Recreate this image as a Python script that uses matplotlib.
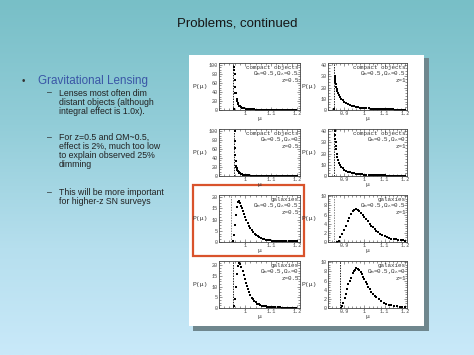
import numpy as np
import matplotlib
matplotlib.use("Agg")
import matplotlib.pyplot as plt
from matplotlib.colors import LinearSegmentedColormap
from matplotlib.patches import Rectangle
from matplotlib.ticker import MultipleLocator, FixedLocator

# ---------------- data ----------------
# compact objects, Om=0.5, OL=0.5, z=0.5
A_min = 0.955
A_mu = [0.957, 0.958, 0.959, 0.960, 0.961, 0.962, 0.963, 0.965, 0.967, 0.969, 0.971, 0.974,
        0.977, 0.980, 0.984, 0.988, 0.992, 0.997, 1.002, 1.008, 1.014, 1.020, 1.027, 1.034,
        1.041, 1.048, 1.055, 1.062, 1.069, 1.076, 1.083, 1.090, 1.097, 1.104, 1.111, 1.118,
        1.125, 1.132, 1.139, 1.146, 1.153, 1.160, 1.167, 1.174, 1.181, 1.188, 1.195]
A_p = [3, 95, 90, 80, 68, 52, 38, 37, 25, 20, 16, 12.5, 10, 8, 6.5, 5.2, 4.3, 3.5, 2.9, 2.4,
       2.0, 1.7, 1.4, 1.2, 1.0, 0.9, 0.8, 0.7, 0.6, 0.55, 0.5, 0.45, 0.4, 0.38, 0.35, 0.32,
       0.3, 0.28, 0.26, 0.24, 0.22, 0.21, 0.2, 0.19, 0.18, 0.17, 0.16]

# compact objects, Om=0.5, OL=0, z=0.5
B_min = 0.958
B_mu = [0.960, 0.961, 0.962, 0.963, 0.964, 0.965, 0.966, 0.968, 0.970, 0.972, 0.975, 0.978,
        0.981, 0.985, 0.989, 0.993, 0.998, 1.003, 1.009, 1.015, 1.022, 1.029, 1.036, 1.043,
        1.050, 1.057, 1.064, 1.071, 1.078, 1.085, 1.092, 1.099, 1.106, 1.113, 1.120, 1.127,
        1.134, 1.141, 1.148, 1.155, 1.162, 1.169, 1.176, 1.183, 1.190, 1.197]
B_p = [100, 78, 62, 46, 33, 22, 20, 17, 14, 11, 9, 7.2, 5.8, 4.6, 3.7, 3.0, 2.4, 2.0, 1.6,
       1.3, 1.1, 0.9, 0.75, 0.65, 0.55, 0.5, 0.45, 0.4, 0.36, 0.33, 0.3, 0.28, 0.26, 0.24,
       0.22, 0.2, 0.19, 0.18, 0.17, 0.16, 0.15, 0.14, 0.13, 0.12, 0.12, 0.11]

# compact objects, Om=0.5, OL=0.5, z=1
C_min = 0.850
C_mu = [0.852, 0.854, 0.855, 0.856, 0.857, 0.858, 0.860, 0.863, 0.866, 0.870, 0.875, 0.880,
        0.886, 0.892, 0.900, 0.910, 0.920, 0.930, 0.940, 0.950, 0.960, 0.970, 0.980, 0.990,
        1.000, 1.010, 1.020, 1.030, 1.040, 1.050, 1.060, 1.070, 1.080, 1.090, 1.100, 1.110,
        1.120, 1.130, 1.140, 1.150, 1.160, 1.170, 1.180, 1.190, 1.200]
C_p = [1, 30, 29, 27, 25, 23, 21, 19, 17, 15, 13, 11.5, 10, 8.7, 7.5, 6.3, 5.3, 4.5, 3.8,
       3.3, 2.9, 2.5, 2.2, 1.9, 1.7, 1.5, 1.35, 1.2, 1.1, 1.0, 0.9, 0.82, 0.75, 0.7, 0.65,
       0.6, 0.55, 0.5, 0.47, 0.44, 0.42, 0.4, 0.38, 0.36, 0.35]

# compact objects, Om=0.5, OL=0, z=1
D_min = 0.852
D_mu = [0.854, 0.855, 0.856, 0.857, 0.858, 0.859, 0.861, 0.863, 0.866, 0.870, 0.875, 0.880,
        0.886, 0.892, 0.900, 0.910, 0.920, 0.930, 0.940, 0.950, 0.960, 0.970, 0.980, 0.990,
        1.000, 1.010, 1.020, 1.030, 1.040, 1.050, 1.060, 1.070, 1.080, 1.090, 1.100, 1.110,
        1.120, 1.130, 1.140, 1.150, 1.160, 1.170, 1.180, 1.190, 1.200]
D_p = [41, 40, 37, 33, 30, 27, 24, 20, 17, 14, 11.5, 9.5, 8, 6.8, 5.8, 4.8, 4.0, 3.4, 2.9,
       2.5, 2.1, 1.8, 1.6, 1.4, 1.25, 1.1, 1.0, 0.9, 0.8, 0.72, 0.65, 0.6, 0.55, 0.5, 0.46,
       0.42, 0.4, 0.37, 0.35, 0.33, 0.31, 0.3, 0.28, 0.27, 0.26]

# galaxies, Om=0.5, OL=0.5, z=0.5
E_min = 0.946
E_mu = [0.952, 0.956, 0.960, 0.964, 0.968, 0.972, 0.976, 0.980, 0.984, 0.988, 0.992, 0.996,
        1.000, 1.005, 1.010, 1.015, 1.020, 1.025, 1.030, 1.036, 1.042, 1.048, 1.054, 1.060,
        1.067, 1.074, 1.081, 1.088, 1.095, 1.102, 1.110, 1.118, 1.126, 1.134, 1.142, 1.150,
        1.158, 1.166, 1.174, 1.182, 1.190, 1.198]
E_p = [0.5, 3, 7.5, 12, 15.5, 17.8, 18.3, 17.5, 16.3, 15, 13.7, 12.4, 11.2, 9.8, 8.5, 7.3,
       6.2, 5.3, 4.5, 3.7, 3.0, 2.5, 2.1, 1.7, 1.4, 1.2, 1.0, 0.85, 0.75, 0.65, 0.55, 0.5,
       0.45, 0.42, 0.4, 0.38, 0.36, 0.34, 0.32, 0.3, 0.3, 0.28]

# galaxies, Om=0.5, OL=0, z=0.5
F_min = 0.952
F_mu = [0.958, 0.962, 0.966, 0.970, 0.974, 0.978, 0.982, 0.986, 0.990, 0.994, 0.998, 1.002,
        1.006, 1.010, 1.015, 1.020, 1.025, 1.030, 1.035, 1.040, 1.046, 1.052, 1.058, 1.064,
        1.071, 1.078, 1.085, 1.092, 1.100, 1.108, 1.116, 1.124, 1.132, 1.140, 1.148, 1.156,
        1.164, 1.172, 1.180, 1.188, 1.196]
F_p = [1, 4, 10, 16, 19.5, 21, 20.5, 19, 17.2, 15.3, 13.5, 11.8, 10.2, 8.8, 7.3, 6.0, 4.9,
       4.0, 3.3, 2.7, 2.1, 1.7, 1.4, 1.1, 0.9, 0.75, 0.6, 0.5, 0.42, 0.36, 0.31, 0.27, 0.24,
       0.22, 0.2, 0.18, 0.17, 0.16, 0.15, 0.14, 0.13]

# galaxies, Om=0.5, OL=0.5, z=1
G_min = 0.848
G_mu = [0.866, 0.872, 0.880, 0.890, 0.900, 0.910, 0.918, 0.926, 0.934, 0.942, 0.950, 0.958,
        0.966, 0.974, 0.983, 0.992, 1.000, 1.008, 1.017, 1.025, 1.033, 1.042, 1.050, 1.058,
        1.067, 1.078, 1.089, 1.100, 1.111, 1.122, 1.133, 1.144, 1.155, 1.167, 1.178, 1.189,
        1.200]
G_p = [0.0, 0.3, 1.0, 1.8, 2.6, 3.6, 4.5, 5.3, 6.1, 6.7, 7.1, 7.3, 7.1, 6.8, 6.4, 5.9, 5.4,
       5.0, 4.5, 4.0, 3.6, 3.2, 2.8, 2.5, 2.1, 1.8, 1.5, 1.25, 1.05, 0.9, 0.75, 0.65, 0.55,
       0.48, 0.42, 0.37, 0.32]

# galaxies, Om=0.5, OL=0, z=1
H_min = 0.877
H_mu = [0.886, 0.891, 0.896, 0.902, 0.908, 0.915, 0.921, 0.927, 0.933, 0.941, 0.947, 0.953,
        0.960, 0.967, 0.975, 0.981, 0.987, 0.994, 1.000, 1.006, 1.012, 1.019, 1.025, 1.033,
        1.042, 1.050, 1.059, 1.071, 1.084, 1.096, 1.108, 1.120, 1.133, 1.146, 1.160, 1.173,
        1.186, 1.200]
H_p = [0.0, 0.4, 1.1, 2.1, 3.1, 4.2, 5.2, 6.0, 6.6, 7.7, 8.1, 8.4, 8.7, 8.6, 8.3, 7.9, 7.4,
       6.8, 6.3, 5.7, 5.2, 4.6, 4.1, 3.6, 3.1, 2.7, 2.4, 1.9, 1.5, 1.2, 0.95, 0.75, 0.6, 0.48,
       0.37, 0.28, 0.2, 0.15]

title_text = "Problems, continued"
bullet_head = "Gravitational Lensing"
sub_items = [["Lenses most often dim", "distant objects (although", "integral effect is 1.0x)."],
             ["For z=0.5 and \u03a9M~0.5,", "effect is 2%, much too low",
              "to explain observed 25%", "dimming"],
             ["This will be more important", "for higher-z SN surveys"]]

# ---------------- figure ----------------
W, H = 474, 355
fig = plt.figure(figsize=(W / 100, H / 100), dpi=100)
bg = fig.add_axes([0, 0, 1, 1])
bg.set_xlim(0, W)
bg.set_ylim(H, 0)
bg.axis("off")
cmap = LinearSegmentedColormap.from_list(
    "bg", [(0, "#78BFC7"), (0.35, "#92CDD8"), (0.7, "#B6DFEE"), (1, "#C9E9F9")])
grad = np.linspace(0, 1, 256).reshape(-1, 1)
bg.imshow(grad, cmap=cmap, extent=[0, W, H, 0], aspect="auto", zorder=0)

SANS = ["Liberation Sans", "DejaVu Sans"]
MONO = ["Liberation Mono", "DejaVu Sans Mono"]
plt.rcParams["mathtext.fontset"] = "custom"
plt.rcParams["mathtext.rm"] = "Liberation Mono"
plt.rcParams["mathtext.it"] = "Liberation Mono"

bg.text(237, 23, title_text, ha="center", va="center", fontsize=9.5, family=SANS,
        color="#151515", zorder=3)
bg.text(23, 81, "\u2022", ha="center", va="center", fontsize=7, family=SANS,
        color="#333333", zorder=3)
bg.text(38, 81, bullet_head, ha="left", va="center", fontsize=8.4, family=SANS,
        color="#3A56A6", zorder=3)
group_y = [93, 137.3, 192.7]
for gy, lines in zip(group_y, sub_items):
    bg.text(49, gy, "\u2013", ha="center", va="center", fontsize=6.3, family=SANS,
            color="#222222", zorder=3)
    for i, ln in enumerate(lines):
        bg.text(59, gy + 9.1 * i, ln, ha="left", va="center", fontsize=6.3, family=SANS,
                color="#222222", zorder=3)

# panel with shadow
bg.add_patch(Rectangle((424, 58), 5, 273, facecolor="#6F878E", edgecolor="none", zorder=1))
bg.add_patch(Rectangle((193, 326), 236, 5, facecolor="#6F878E", edgecolor="none", zorder=1))
bg.add_patch(Rectangle((189, 55), 235, 271, facecolor="white", edgecolor="none", zorder=2))
bg.add_patch(Rectangle((193.5, 185), 111, 71, facecolor="none", edgecolor="#D9532C",
                       linewidth=1.6, zorder=5))


def ax_at(x0, y0, x1, y1):
    return fig.add_axes([x0 / W, 1 - y1 / H, (x1 - x0) / W, (y1 - y0) / H])


col_x = [(219, 300), (328, 407)]
row_y = [(63, 110), (129, 176), (195, 242), (261, 308)]

panels = [
    (0, 0, A_mu, A_p, A_min, (0, 105), 20, "compact objects", "0.5", "z=0.5"),
    (0, 1, C_mu, C_p, C_min, (0, 42), 10, "compact objects", "0.5", "z=1"),
    (1, 0, B_mu, B_p, B_min, (0, 105), 20, "compact objects", "0", "z=0.5"),
    (1, 1, D_mu, D_p, D_min, (0, 42), 10, "compact objects", "0", "z=1"),
    (2, 0, E_mu, E_p, E_min, (0, 21), 5, "galaxies", "0.5", "z=0.5"),
    (2, 1, G_mu, G_p, G_min, (0, 10.3), 2, "galaxies", "0.5", "z=1"),
    (3, 0, F_mu, F_p, F_min, (0, 22), 5, "galaxies", "0", "z=0.5"),
    (3, 1, H_mu, H_p, H_min, (0, 10.3), 2, "galaxies", "0", "z=1"),
]

for r, c, mu, p, mmin, ylim, ystep, kind, ol, zt in panels:
    x0, x1 = col_x[c]
    y0, y1 = row_y[r]
    ax = ax_at(x0, y0, x1, y1)
    ax.set_zorder(4)
    ax.set_facecolor("white")
    if c == 0:
        ax.set_xlim(0.90, 1.21)
        ax.xaxis.set_major_locator(FixedLocator([1.0, 1.1, 1.2]))
        ax.set_xticklabels(["1", "1.1", "1.2"])
    else:
        ax.set_xlim(0.82, 1.21)
        ax.xaxis.set_major_locator(FixedLocator([0.9, 1.0, 1.1, 1.2]))
        ax.set_xticklabels(["0.9", "1", "1.1", "1.2"])
    ax.xaxis.set_minor_locator(MultipleLocator(0.02))
    ax.set_ylim(*ylim)
    ax.yaxis.set_major_locator(MultipleLocator(ystep))
    ax.yaxis.set_minor_locator(MultipleLocator(ystep / 4))
    ax.tick_params(which="both", direction="in", top=True, right=True, colors="#444444",
                   labelsize=3.7, pad=0.8, width=0.4)
    ax.tick_params(which="major", length=2.2)
    ax.tick_params(which="minor", length=1.2)
    for lab in ax.get_xticklabels() + ax.get_yticklabels():
        lab.set_family(MONO)
    for s in ax.spines.values():
        s.set_linewidth(0.6)
        s.set_color("#444444")
    ls_col = "#222222" if r != 2 else "#888888"
    ax.axvline(mmin, color=ls_col, linestyle=(0, (1.5, 1.2)), linewidth=0.7)
    ax.plot(mu, p, linestyle="none", marker="s", markersize=1.6, color="black",
            markeredgewidth=0, clip_on=False)
    ax.text(0.985, 0.965, kind + "\n" + r"$\Omega_M$=0.5,$\Omega_\Lambda$=" + ol + "\n" + zt,
            transform=ax.transAxes, ha="right", va="top", fontsize=4.2, family=MONO,
            color="#333333", linespacing=0.95)
    bg.text(x0 - 11, (y0 + y1) / 2, "P(\u03bc)", ha="right", va="center", fontsize=4.6,
            family=MONO, color="#333333", zorder=6)
    bg.text((x0 + x1) / 2, y1 + 8.5, "\u03bc", ha="center", va="center", fontsize=4.6,
            family=MONO, color="#333333", zorder=6)

fig.savefig("out.png", dpi=100)
